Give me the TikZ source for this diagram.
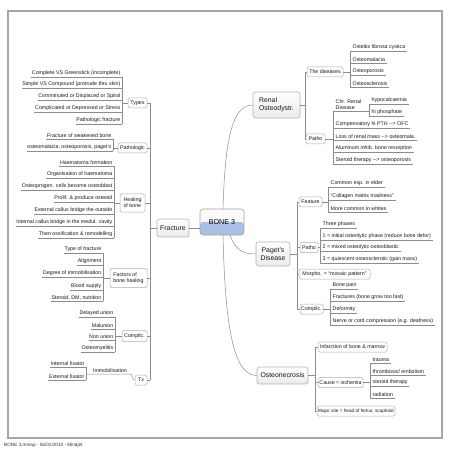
\documentclass[tikz,border=0pt]{standalone}
\usepackage{fontspec}
\setmainfont{Liberation Sans}
\definecolor{lnk}{HTML}{8C8C8C}
\definecolor{bonebl}{HTML}{A9C0E4}
\tikzset{
  conn/.style={draw=lnk, line width=0.5bp},
  ul/.style={draw=lnk, line width=0.5bp},
  leaf/.style={font=\fontsize{5.3}{6.2}\selectfont, inner xsep=0.5bp, inner ysep=0.8bp, text=black!90},
  sub/.style={draw=gray!65, fill=white, rounded corners=1.5bp, line width=0.5bp, font=\fontsize{5.3}{6.2}\selectfont, inner sep=0.5bp, text=black!90, align=left},
  mainbox/.style={draw=gray!60, top color=white, bottom color=gray!16, rounded corners=2.5bp, line width=0.6bp, font=\fontsize{6.9}{8}\selectfont, inner sep=0.5bp, text=black!90},
}
\newcommand\lleaf[4]{\node[leaf,anchor=south east] (#1) at ({#2-1},{#3}) {#4};\draw[ul] (#1.south west) -- (#2,#3);}
\newcommand\rleaf[4]{\node[leaf,anchor=south west] (#1) at ({#2+2},{#3}) {#4};\draw[ul] (#2,#3) -- ([xshift=1bp]#1.south east);}
\begin{document}
\begin{tikzpicture}[x=1bp,y=-1bp]
\useasboundingbox (0,0) rectangle (452,452);
\draw[gray!70, line width=1.2bp] (8,11) rectangle (442,438);
\node[font=\fontsize{4.7}{5}\selectfont, anchor=west, inner sep=0, text=black!80] (foot) at (4,445) {BONE 3.mmap - 06/01/2010 - Mindjet};

% centre
\node[draw=gray!70, line width=0.6bp, rounded corners=3bp, minimum width=44bp, minimum height=26bp, fill=gray!4, font=\fontsize{7.2}{8}\selectfont, inner sep=0,
  path picture={\fill[bonebl] (path picture bounding box.west) rectangle (path picture bounding box.south east);}] (bone) at (222,222) {BONE 3};

% ---------- left: Fracture ----------
\node[mainbox, minimum width=32bp, minimum height=18bp] (frac) at (173,228) {Fracture};
\draw[conn] (bone.west |- frac.east) -- (frac.east);
\coordinate (spL) at (150,228);
\draw[conn] (frac.west) -- (spL);
\draw[conn] (150,103) -- (150,380);

\node[sub, minimum width=19bp, minimum height=10bp] (types) at (137.5,103) {Types};
\node[sub, minimum width=29bp, minimum height=10bp] (patho) at (132.5,148) {Pathologic};
\node[sub, minimum width=25bp, minimum height=18bp] (heal) at (132.5,203) {Healing\\of bone};
\node[sub, minimum width=37bp, minimum height=19bp] (fact) at (128.5,278) {Factors of\\bone healing};
\node[sub, minimum width=25bp, minimum height=11bp] (compl) at (134.5,336) {Complic.};
\node[sub, minimum width=12bp, minimum height=10bp] (tx) at (141,380) {Tx};
\foreach \n in {types,patho,heal,fact,compl,tx} \draw[conn] (\n.east) -- (\n.east -| spL);

% Types
\lleaf{ty1}{122}{77}{Complete VS Greenstick (incomplete)}
\lleaf{ty2}{122}{88}{Simple VS Compound (protrude thru skin)}
\lleaf{ty3}{122}{100}{Comminuted or Displaced or Spiral}
\lleaf{ty4}{122}{112}{Complicated or Depressed or Stress}
\lleaf{ty5}{122}{124}{Pathologic fracture}
\draw[conn] (122,77) -- (122,124);
\draw[conn] (types.west) -- (122,103);

% Pathologic
\lleaf{pa1}{113}{139}{Fracture of weakened bone}
\lleaf{pa2}{113}{151}{osteomalacia, osteoporosis, paget's}
\draw[conn] (113,139) -- (113,151);
\draw[conn] (patho.west) -- (113,148);

% Healing
\lleaf{h1}{114}{166}{Haematoma formation}
\lleaf{h2}{114}{178}{Organisation of haematoma}
\lleaf{h3}{114}{190}{Osteoprogen. cells become osteoblast}
\lleaf{h4}{114}{202}{Prolif. \& produce osteoid}
\lleaf{h5}{114}{214}{External callus bridge the outside}
\lleaf{h6}{114}{226}{Internal callus bridge in the medul. cavity}
\lleaf{h7}{114}{238}{Then ossification \& remodelling}
\draw[conn] (114,166) -- (114,238);
\draw[conn] (heal.west) -- (114,203);

% Factors
\lleaf{fa1}{103}{253}{Type of fracture}
\lleaf{fa2}{103}{265}{Alignment}
\lleaf{fa3}{103}{277}{Degree of immobilisation}
\lleaf{fa4}{103}{290}{Blood supply}
\lleaf{fa5}{103}{301}{Steroid, DM, nutrition}
\draw[conn] (103,253) -- (103,301);
\draw[conn] (fact.west) -- (103,278);

% Complic
\lleaf{co1}{115}{317}{Delayed union}
\lleaf{co2}{115}{329}{Malunion}
\lleaf{co3}{115}{340}{Non union}
\lleaf{co4}{115}{352}{Osteomyelitis}
\draw[conn] (115,317) -- (115,352);
\draw[conn] (compl.west) -- (115,336);

% Tx
\node[leaf, anchor=south] (imm) at (110,374) {Immobilisation};
\draw[ul] (86,374) -- (130,374) to[out=0,in=180] (tx.west);
\lleaf{if}{86}{367}{Internal fixator}
\lleaf{ef}{86}{380}{External fixator}
\draw[conn] (86,367) -- (86,380);

% ---------- right: Renal ----------
\node[mainbox, minimum width=47bp, minimum height=26bp, align=left] (renal) at (276.5,105) {Renal\\Osteodystr.};
\draw[conn] (223,209) .. controls (225,140) and (232,105) .. (renal.west);
\draw[conn] (renal.east) -- (305,105);
\draw[conn] (305,72) -- (305,139);
\node[sub, minimum width=36bp, minimum height=10bp] (dis) at (325,72) {The diseases};
\node[sub, minimum width=19bp, minimum height=10bp] (rpat) at (315.5,139) {Patho};
\draw[conn] (305,72) -- (dis.west);
\draw[conn] (305,139) -- (rpat.west);

\rleaf{d1}{350}{51}{Osteitis fibrosa cystica}
\rleaf{d2}{350}{63}{Osteomalacia}
\rleaf{d3}{350}{75}{Osteoporosis}
\rleaf{d4}{350}{87}{Osteosclerosis}
\draw[conn] (350,51) -- (350,87);
\draw[conn] (dis.east) -- (350,72);

\node[leaf, anchor=south west, align=left] (crd) at (335,111) {Chr. Renal\\Disease};
\draw[ul] (333,111) -- (369,111);
\rleaf{hc}{369}{104}{hypocalcaemia}
\rleaf{hp}{369}{116}{hi phosphate}
\draw[conn] (369,104) -- (369,116);
\rleaf{cp}{333}{128}{Compensatory hi PTH -{}-{}> OFC}
\rleaf{lr}{333}{140}{Loss of renal mass -{}-{}> osteomala.}
\rleaf{al}{333}{152}{Aluminum inhib. bone resorption}
\rleaf{sr}{333}{164}{Steroid therapy -{}-{}> osteoporosis}
\draw[conn] (333,111) -- (333,164);
\draw[conn] (rpat.east) -- (333,139);

% ---------- right: Paget ----------
\node[mainbox, minimum width=34bp, minimum height=24bp, align=center] (paget) at (273,254) {Paget's\\Disease};
\draw[conn] (230,235) .. controls (236,252) and (245,254) .. (paget.west);
\coordinate (pB) at (297,254);
\draw[conn] (paget.east) -- (pB);
\draw[conn] (297,202) -- (297,309);
\node[sub, minimum width=23bp, minimum height=10bp] (feat) at (310.5,202) {Feature};
\node[sub, minimum width=18bp, minimum height=10bp] (ppat) at (309,247.5) {Patho};
\node[sub, minimum width=71bp, minimum height=10bp] (morph) at (334.5,274) {Morpho. = ``mosaic pattern''};
\node[sub, minimum width=23bp, minimum height=10bp] (pcom) at (311.5,309) {Complic.};
\foreach \n in {feat,ppat,morph,pcom} \draw[conn] (\n.west) -- (\n.west -| pB);

\rleaf{f1}{328}{187}{Common esp. in elder}
\rleaf{f2}{328}{200}{``Collagen matrix madness''}
\rleaf{f3}{328}{212}{More common in whites}
\draw[conn] (328,187) -- (328,212);
\draw[conn] (feat.east) -- (328,202);

\rleaf{pp1}{320}{228}{Three phases}
\rleaf{pp2}{320}{240}{1 = initial osteolytic phase (reduce bone defor)}
\rleaf{pp3}{320}{251}{2 = mixed osteolytic-osteoblastic}
\rleaf{pp4}{320}{263}{3 = quiescent osteosclerotic (gain mass)}
\draw[conn] (320,228) -- (320,263);
\draw[conn] (ppat.east) -- (320,247.5);

\rleaf{pc1}{330}{289}{Bone pain}
\rleaf{pc2}{330}{301}{Fractures (bone grow too fast)}
\rleaf{pc3}{330}{313}{Deformity}
\rleaf{pc4}{330}{325}{Nerve or cord compression (e.g. deafness)}
\draw[conn] (330,289) -- (330,325);
\draw[conn] (pcom.east) -- (330,309);

% ---------- right: Osteonecrosis ----------
\node[mainbox, minimum width=51bp, minimum height=17bp] (osn) at (282.5,375.5) {Osteonecrosis};
\draw[conn] (223,235) .. controls (225,320) and (232,375.5) .. (osn.west);
\coordinate (oB) at (315,375.5);
\draw[conn] (osn.east) -- (oB);
\draw[conn] (315,347) -- (315,411);
\node[sub, minimum width=69bp, minimum height=10bp] (inf) at (352.5,347) {Infarction of bone \& marrow};
\node[sub, minimum width=45bp, minimum height=10bp] (cause) at (340.5,382.5) {Cause = ischemia};
\node[sub, minimum width=78bp, minimum height=10bp, font=\fontsize{4.7}{5.5}\selectfont] (major) at (356,411) {Major site = head of femur, scaphoid};
\foreach \n in {inf,cause,major} \draw[conn] (\n.west) -- (\n.west -| oB);

\rleaf{ca1}{370}{363}{trauma}
\rleaf{ca2}{370}{375}{thrombosis/ embolism}
\rleaf{ca3}{370}{386}{steroid therapy}
\rleaf{ca4}{370}{398}{radiation}
\draw[conn] (370,363) -- (370,398);
\draw[conn] (cause.east) -- (370,382.5);
\end{tikzpicture}
\end{document}
